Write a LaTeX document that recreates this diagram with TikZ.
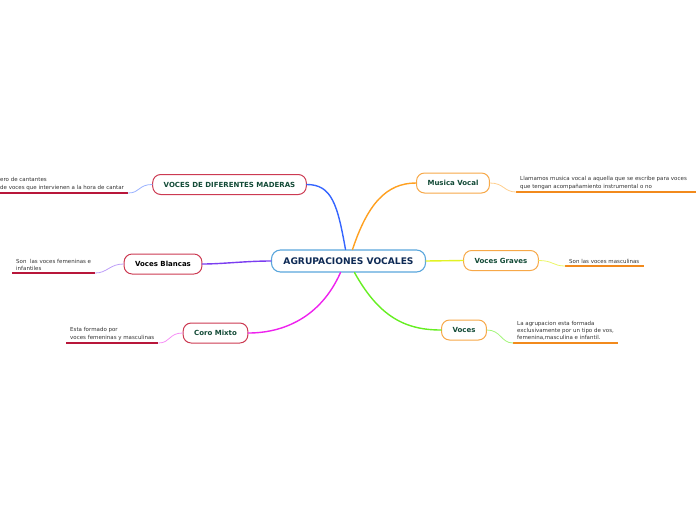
\documentclass[tikz,border=0pt]{standalone}
\usepackage{fontspec}
\setmainfont{DejaVu Sans}
\definecolor{navy}{HTML}{0E2A55}
\definecolor{deepgreen}{HTML}{124A36}
\definecolor{leafgray}{HTML}{333333}
\definecolor{centerblue}{HTML}{5AA6DC}
\definecolor{boxred}{HTML}{CC3A52}
\definecolor{boxorange}{HTML}{F7A848}
\definecolor{linered}{HTML}{B8163A}
\definecolor{lineorange}{HTML}{F28A1C}
\definecolor{cblue}{HTML}{3565FF}
\definecolor{corange}{HTML}{FFA020}
\definecolor{cpurple}{HTML}{7B3DF0}
\definecolor{cyellow}{HTML}{E2F224}
\definecolor{cmagenta}{HTML}{EE22EE}
\definecolor{cgreen}{HTML}{66EE22}

\begin{document}
\begin{tikzpicture}[x=1pt, y=-1pt, line cap=round,
    central/.style={draw=centerblue, line width=1.1pt, rounded corners=9pt,
      fill=white, text=navy, font=\bfseries\fontsize{9.1}{10}\selectfont,
      minimum height=22pt, inner xsep=12pt},
    topic/.style={draw=#1, line width=1pt, rounded corners=8pt, fill=white,
      text=deepgreen, font=\bfseries\fontsize{7}{8}\selectfont,
      minimum height=20pt, inner xsep=11pt},
    leaf/.style={text=leafgray, font=\fontsize{5.5}{7.2}\selectfont,
      align=left, inner xsep=4pt, inner ysep=2.5pt},
    uline/.style={draw=#1, line width=1.6pt, line cap=butt},
    link/.style={draw=#1, line width=1.4pt},
    sublink/.style={draw=#1, line width=0.8pt}
  ]
  \useasboundingbox (0,0) rectangle (696,520);

  % central topic
  \node [central] (c) at (348.5,261) {AGRUPACIONES VOCALES};

  % main topics
  \node [topic=boxred] (mad) at (229.5,184.5) {VOCES DE DIFERENTES MADERAS};
  \node [topic=boxred, text=black] (bla) at (163,264) {Voces Blancas};
  \node [topic=boxred] (mix) at (215.5,333) {Coro Mixto};
  \node [topic=boxorange] (mus) at (453,183) {Musica Vocal};
  \node [topic=boxorange] (gra) at (501,260.5) {Voces Graves};
  \node [topic=boxorange] (voc) at (464,330) {Voces};

  % notes
  \node [leaf, anchor=south west] (madn) at (-4,193)
    {ero de cantantes\\de voces que intervienen a la hora de cantar};
  \node [leaf, anchor=south west] (blan) at (12,273)
    {Son \ las voces femeninas e\\infantiles};
  \node [leaf, anchor=south west] (mixn) at (66,343)
    {Esta formado por\\voces femeninas y masculinas};
  \node [leaf, anchor=south west] (musn) at (516,192)
    {Llamamos musica vocal a aquella que se escribe para voces\\que tengan acompañamiento instrumental o no};
  \node [leaf, anchor=south west] (gran) at (565,266)
    {Son las voces masculinas};
  \node [leaf, anchor=south west] (vocn) at (513,343)
    {La agrupacion esta formada\\exclusivamente por un tipo de vos,\\femenina,masculina e infantil.};

  \draw [uline=linered] (madn.south west) -- (madn.south east);
  \draw [uline=linered] (blan.south west) -- (blan.south east);
  \draw [uline=linered] (mixn.south west) -- (mixn.south east);
  \draw [uline=lineorange] (musn.south west) -- ([xshift=12pt]musn.south east);
  \draw [uline=lineorange] (gran.south west) -- (gran.south east);
  \draw [uline=lineorange] (vocn.south west) -- (vocn.south east);

  % links from the centre
  \draw [link=cblue] ([xshift=-3pt]c.north) .. controls +(-8,-45) and +(25,0) .. (mad.east);
  \draw [link=corange] ([xshift=4pt]c.north) .. controls +(15,-45) and +(-30,0) .. (mus.west);
  \draw [link=cpurple] (c.west) .. controls +(-25,0) and +(20,0) .. (bla.east);
  \draw [link=cyellow] (c.east) -- (gra.west);
  \draw [link=cmagenta] ([xshift=-8pt]c.south) .. controls +(-20,45) and +(35,0) .. (mix.east);
  \draw [link=cgreen] ([xshift=6pt]c.south) .. controls +(25,45) and +(-35,0) .. (voc.west);

  % links to the notes
  \draw [sublink=cblue!50] (mad.west) .. controls +(-14,0) and +(12,0) .. (madn.south east);
  \draw [sublink=cpurple!50] (bla.west) .. controls +(-14,0) and +(12,0) .. (blan.south east);
  \draw [sublink=cmagenta!50] (mix.west) .. controls +(-14,0) and +(12,0) .. (mixn.south east);
  \draw [sublink=corange!50] (mus.east) .. controls +(14,0) and +(-12,0) .. (musn.south west);
  \draw [sublink=cyellow!70] (gra.east) .. controls +(14,0) and +(-12,0) .. (gran.south west);
  \draw [sublink=cgreen!60] (voc.east) .. controls +(14,0) and +(-12,0) .. (vocn.south west);
\end{tikzpicture}
\end{document}
